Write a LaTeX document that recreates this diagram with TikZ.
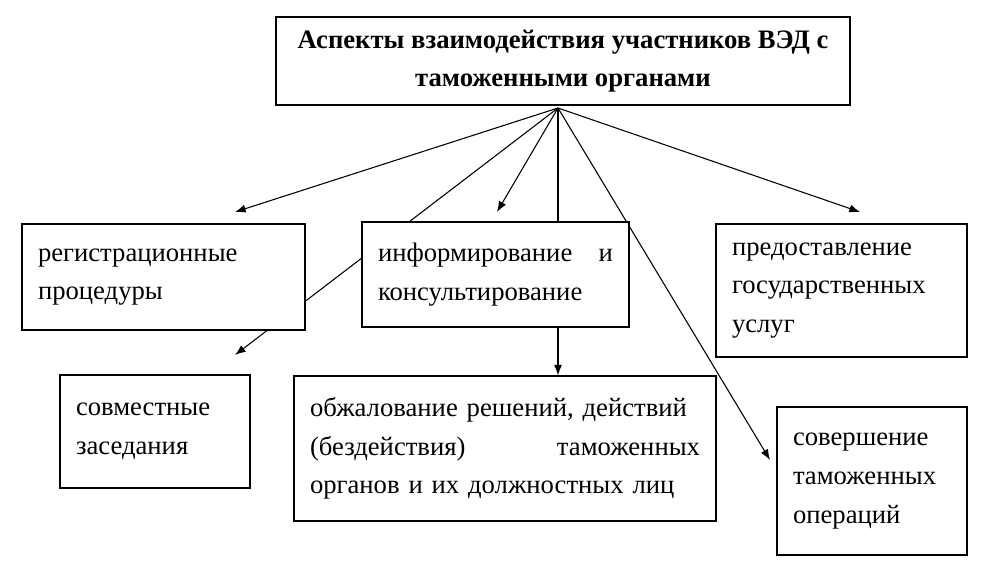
\documentclass[tikz,border=0pt]{standalone}
\usepackage{fontspec}
\setmainfont{Liberation Serif}
\usetikzlibrary{arrows.meta}
\begin{document}
\begin{tikzpicture}[x=0.75pt,y=-0.75pt,
  bx/.style={draw,thick,fill=white,minimum width=#1*0.75pt,text width=(#1-32)*0.75pt,align=left,font=\fontsize{20}{29}\selectfont,inner sep=0pt},
  ar/.style={thick,-{Latex[length=8pt,width=6pt]}}]
\useasboundingbox (0,0) rectangle (1003,575);
\coordinate (o) at (558,108);
\draw[ar] (o) -- (235,212);
\draw[ar] (o) -- (235,355);
\draw[ar] (o) -- (497,212);
\draw[thick] (o) -- (558,222);
\draw[ar] (o) -- (770,460);
\draw[ar] (o) -- (860,212);
\node[draw,thick,fill=white,minimum width=574*0.75pt,minimum height=88*0.75pt,align=center,font=\fontsize{20}{28}\selectfont\bfseries] (top) at (563,61) {Аспекты взаимодействия участников ВЭД с\\таможенными органами};
\node[bx=283,minimum height=106*0.75pt] (reg) at (163.5,277) {регистрационные\\процедуры};
\node[bx=267,minimum height=105*0.75pt] (inf) at (495.5,274.5) {информирование\hfill и\\консультирование};
\node[bx=251,minimum height=133*0.75pt] (pr) at (841.5,290.5) {предоставление\\государственных\\услуг};
\node[bx=190,minimum height=113*0.75pt] (sov) at (155,431.5) {совместные\\заседания};
\node[bx=422,minimum height=145*0.75pt] (obj) at (505,448.5) {обжалование решений, действий\\(бездействия)\hfill таможенных\\органов и их должностных лиц};
\node[bx=190,minimum height=148*0.75pt] (sot) at (872,481) {совершение\\таможенных\\операций};
\draw[ar] (inf.south -| 558,0) -- (obj.north -| 558,0);
\end{tikzpicture}
\end{document}
